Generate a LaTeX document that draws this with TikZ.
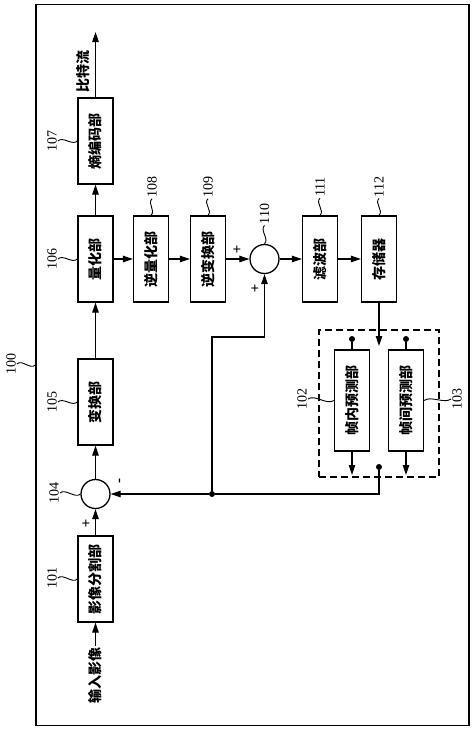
\documentclass[tikz,border=0pt]{standalone}
\usepackage{fontspec}
\setmainfont{Liberation Serif}
\newfontfamily\cjk{Noto Sans CJK SC}
\usepackage{graphicx}
\usetikzlibrary{arrows.meta,positioning}

\newcommand{\rt}[1]{\rotatebox{90}{#1}}

\begin{document}
\begin{tikzpicture}[x=1pt,y=-1pt,
	block/.style={draw, line width=1.3pt, minimum width=35pt, minimum height=86pt, inner sep=0pt, font=\cjk\bfseries\fontsize{14}{14}\selectfont},
	adder/.style={circle, draw, line width=1.3pt, minimum size=29pt, inner sep=0pt},
	num/.style={inner sep=1pt, font=\fontsize{14}{14}\selectfont},
	lbl/.style={inner sep=1pt, font=\cjk\bfseries\fontsize{14}{14}\selectfont},
	sign/.style={inner sep=0pt, font=\bfseries\fontsize{15}{15}\selectfont},
	dot/.style={circle, fill, inner sep=0pt, minimum size=6pt},
	arr/.style={line width=1.1pt, -{Triangle[length=10pt,width=6.5pt]}},
	wire/.style={line width=1.1pt},
	tilde/.style={line width=0.9pt}]
		\useasboundingbox (0,0) rectangle (474,731);
		\node[draw, line width=1.4pt, minimum width=433pt, minimum height=721pt] (frame) at (252.5,365) {};

		\node[block] (b107) at (95.5,141) {\rt{熵编码部}};
		\node[block] (b106) at (95.5,259) {\rt{量化部}};
		\node[block] (b105) at (95.5,402) {\rt{变换部}};
		\node[adder] (c104) at (95.5,494) {};
		\node[block] (b101) at (95.5,579) {\rt{影像分割部}};
		\node[block] (b108) at (151,259) {\rt{逆量化部}};
		\node[block] (b109) at (208,259) {\rt{逆变换部}};
		\node[adder] (c110) at (264.5,259) {};
		\node[block] (b111) at (320,259) {\rt{滤波部}};
		\node[block] (b112) at (379,259) {\rt{存储器}};
		\node[draw, dashed, dash pattern=on 7pt off 4pt, line width=1.1pt, minimum width=120pt, minimum height=147pt] (pred) at (379,403.5) {};
		\node[block, minimum height=101pt] (b102) at (352,400.5) {\rt{帧内预测部}};
		\node[block, minimum height=101pt] (b103) at (406,400.5) {\rt{帧间预测部}};

		\node[lbl] (bits) at (83.5,71) {\rt{比特流}};
		\node[lbl] (src) at (95.5,675) {\rt{输入影像}};
		\coordinate (dst) at (95.5,32);

		\node[num] (l100) at (11,364) {\rt{100}};
		\node[num] (l107) at (52,141) {\rt{107}};
		\node[num] (l106) at (52,259) {\rt{106}};
		\node[num] (l105) at (52,402) {\rt{105}};
		\node[num] (l104) at (54,493) {\rt{104}};
		\node[num] (l101) at (52,578) {\rt{101}};
		\node[num] (l108) at (152,187) {\rt{108}};
		\node[num] (l109) at (208,187) {\rt{109}};
		\node[num] (l110) at (264.5,214) {\rt{110}};
		\node[num] (l111) at (320,187) {\rt{111}};
		\node[num] (l112) at (379,187) {\rt{112}};
		\node[num] (l102) at (302,399) {\rt{102}};
		\node[num] (l103) at (457,399) {\rt{103}};

		\draw[tilde] (l100.east) .. controls +(5,-5) and +(-5,5) .. (frame.west);
		\draw[tilde] (l107.east) .. controls +(5,-5) and +(-5,5) .. (b107.west);
		\draw[tilde] (l106.east) .. controls +(5,-5) and +(-5,5) .. (b106.west);
		\draw[tilde] (l105.east) .. controls +(5,-5) and +(-5,5) .. (b105.west);
		\draw[tilde] (l104.east) .. controls +(5,-5) and +(-5,5) .. (c104.west);
		\draw[tilde] (l101.east) .. controls +(5,-5) and +(-5,5) .. (b101.west);
		\draw[tilde] (l102.east) .. controls +(7,-5) and +(-7,5) .. (b102.west);
		\draw[tilde] (b103.east) .. controls +(7,-5) and +(-7,5) .. (l103.west);
		\draw[tilde] (l108.south) .. controls +(-5,5) and +(5,-5) .. (b108.north);
		\draw[tilde] (l109.south) .. controls +(-5,5) and +(5,-5) .. (b109.north);
		\draw[tilde] (l110.south) .. controls +(-5,5) and +(5,-5) .. (c110.north);
		\draw[tilde] (l111.south) .. controls +(-5,5) and +(5,-5) .. (b111.north);
		\draw[tilde] (l112.south) .. controls +(-5,5) and +(5,-5) .. (b112.north);

		\node[sign] (p110a) at (237,250) {+};
		\node[sign] (p110b) at (255,289) {+};
		\node[sign] (p104) at (86,524) {+};
		\node[sign] (m104) at (121,481) {\rt{-}};

		\node[dot] (d102) at (352,339) {};
		\node[dot] (d103) at (406,339) {};
		\node[dot] (dsel) at (379,467) {};
		\node[dot] (jn) at (212,494) {};
		\coordinate (mem) at (379,346);
		\coordinate (o102) at (352,475);
		\coordinate (o103) at (406,475);
		\coordinate (fb) at (264.5,337);

		\draw[arr] (src) -- (b101);
		\draw[arr] (b101) -- (c104);
		\draw[arr] (c104) -- (b105);
		\draw[arr] (b105) -- (b106);
		\draw[arr] (b106) -- (b107);
		\draw[arr] (b107) -- (dst);
		\draw[arr] (b106) -- (b108);
		\draw[arr] (b108) -- (b109);
		\draw[arr] (b109) -- (c110);
		\draw[arr] (c110) -- (b111);
		\draw[arr] (b111) -- (b112);
		\draw[arr] (b112) -- (mem);
		\draw[wire] (d102) -- (b102);
		\draw[wire] (d103) -- (b103);
		\draw[arr] (b102) -- (o102);
		\draw[arr] (b103) -- (o103);
		\draw[wire] (dsel) |- (jn);
		\draw[arr] (jn) -- (c104);
		\draw[arr] (jn) |- (fb) -- (c110);
	\end{tikzpicture}
\end{document}
